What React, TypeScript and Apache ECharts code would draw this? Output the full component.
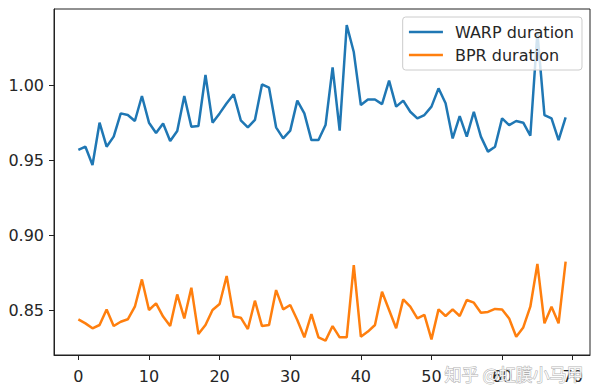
import React, { useEffect, useRef } from "react";
import * as echarts from "echarts";

const xValues: number[] = Array.from({ length: 70 }, (_, i) => i);

const warpDuration: number[] = [
  0.9567, 0.9589, 0.9467, 0.9749, 0.9589, 0.9656, 0.9811, 0.98, 0.976, 0.9927,
  0.9749, 0.968, 0.9744, 0.9627, 0.9693, 0.9927, 0.9722, 0.9727, 1.0067, 0.9749,
  0.9811, 0.9878, 0.9938, 0.9765, 0.9718, 0.9767, 1.0004, 0.9982, 0.9718, 0.9644,
  0.9696, 0.9896, 0.9811, 0.9633, 0.9633, 0.9733, 1.0118, 0.9696, 1.04, 1.022,
  0.9867, 0.9904, 0.9904, 0.9873, 1.0029, 0.9856, 0.9896, 0.9822, 0.9778, 0.98,
  0.9856, 0.9978, 0.9878, 0.9644, 0.9793, 0.9656, 0.9822, 0.9656, 0.9556, 0.9589,
  0.9778, 0.9733, 0.976, 0.9749, 0.9662, 1.035, 0.98, 0.9778, 0.9633, 0.9784,
];

const bprDuration: number[] = [
  0.8438, 0.8411, 0.8378, 0.84, 0.8504, 0.8393, 0.8422, 0.8438, 0.8522, 0.8704,
  0.85, 0.8544, 0.8456, 0.8393, 0.8604, 0.8444, 0.8649, 0.834, 0.84, 0.85,
  0.854, 0.8727, 0.8456, 0.8449, 0.8373, 0.8562, 0.8393, 0.84, 0.8633, 0.8504,
  0.8533, 0.8433, 0.8318, 0.8473, 0.8318, 0.8296, 0.8393, 0.8318, 0.8318, 0.88,
  0.8322, 0.8356, 0.84, 0.8622, 0.85, 0.8378, 0.8571, 0.8522, 0.8444, 0.8467,
  0.8304, 0.8504, 0.846, 0.8504, 0.846, 0.8567, 0.8549, 0.8482, 0.8487, 0.8507,
  0.8504, 0.8444, 0.8322, 0.8384, 0.8522, 0.8807, 0.8411, 0.8522, 0.8411, 0.8822,
];

const xTicks: number[] = [0, 10, 20, 30, 40, 50, 60, 70];
const yTicks: number[] = [0.85, 0.9, 0.95, 1.0];
const seriesNames: string[] = ["WARP duration", "BPR duration"];
const colors: string[] = ["#1f77b4", "#ff7f0e"];
const watermark = "知乎 @虹膜小马甲";

const FONT = "DejaVu Sans";
const TEXT = "#262626";

export default function App() {
  const ref = useRef<HTMLDivElement>(null);

  useEffect(() => {
    if (!ref.current) return;
    const chart = echarts.init(ref.current, null, { renderer: "svg" });
    const toPairs = (ys: number[]) => xValues.map((x, i) => [x, ys[i]]);
    chart.setOption({
      animation: false,
      backgroundColor: "#ffffff",
      grid: {
        left: 54,
        right: 10,
        top: 9,
        bottom: 37,
        show: true,
        borderColor: "#222",
        borderWidth: 1,
        backgroundColor: "transparent",
      },
      xAxis: {
        type: "value",
        min: -3.45,
        max: 72.45,
        splitLine: { show: false },
        axisLine: { show: true, onZero: false, lineStyle: { color: "#222", width: 1 } },
        axisTick: {
          show: true,
          length: 5,
          inside: false,
          customValues: xTicks,
          lineStyle: { color: "#222", width: 1 },
        },
        axisLabel: {
          customValues: xTicks,
          margin: 13,
          fontSize: 16,
          fontFamily: FONT,
          color: TEXT,
          formatter: (v: number) => String(Math.round(v)),
        },
      },
      yAxis: {
        type: "value",
        min: 0.82,
        max: 1.0507,
        splitLine: { show: false },
        axisLine: { show: true, onZero: false, lineStyle: { color: "#222", width: 1 } },
        axisTick: {
          show: true,
          length: 5,
          inside: false,
          customValues: yTicks,
          lineStyle: { color: "#222", width: 1 },
        },
        axisLabel: {
          customValues: yTicks,
          margin: 10,
          fontSize: 16,
          fontFamily: FONT,
          color: TEXT,
          formatter: (v: number) => v.toFixed(2),
        },
      },
      legend: {
        orient: "vertical",
        right: 18,
        top: 17,
        data: seriesNames,
        itemWidth: 34,
        itemHeight: 16,
        itemGap: 7,
        padding: [7, 8, 7, 5],
        backgroundColor: "rgba(255,255,255,0.8)",
        borderColor: "#cccccc",
        borderWidth: 1,
        borderRadius: 3,
        itemStyle: { opacity: 0 },
        lineStyle: { width: 2.5 },
        textStyle: {
          fontSize: 16,
          fontFamily: FONT,
          color: TEXT,
          padding: [0, 0, 0, 7],
        },
      },
      graphic: [
        {
          type: "text",
          right: 16,
          bottom: 10,
          z: 100,
          style: {
            text: watermark,
            fontSize: 17,
            fontFamily: "Noto Sans CJK SC",
            fill: "rgba(255,255,255,0.9)",
            stroke: "rgba(120,120,120,0.6)",
            lineWidth: 1,
          },
        },
      ],
      series: seriesNames.map((name, k) => ({
        name,
        type: "line",
        data: toPairs(k === 0 ? warpDuration : bprDuration),
        symbol: "none",
        showSymbol: false,
        color: colors[k],
        lineStyle: { color: colors[k], width: 2.5 },
        z: 2,
      })),
    });
    return () => chart.dispose();
  }, []);

  return (
    <div
      ref={ref}
      style={{ position: "fixed", left: 0, top: 0, width: 600, height: 392 }}
    />
  );
}
